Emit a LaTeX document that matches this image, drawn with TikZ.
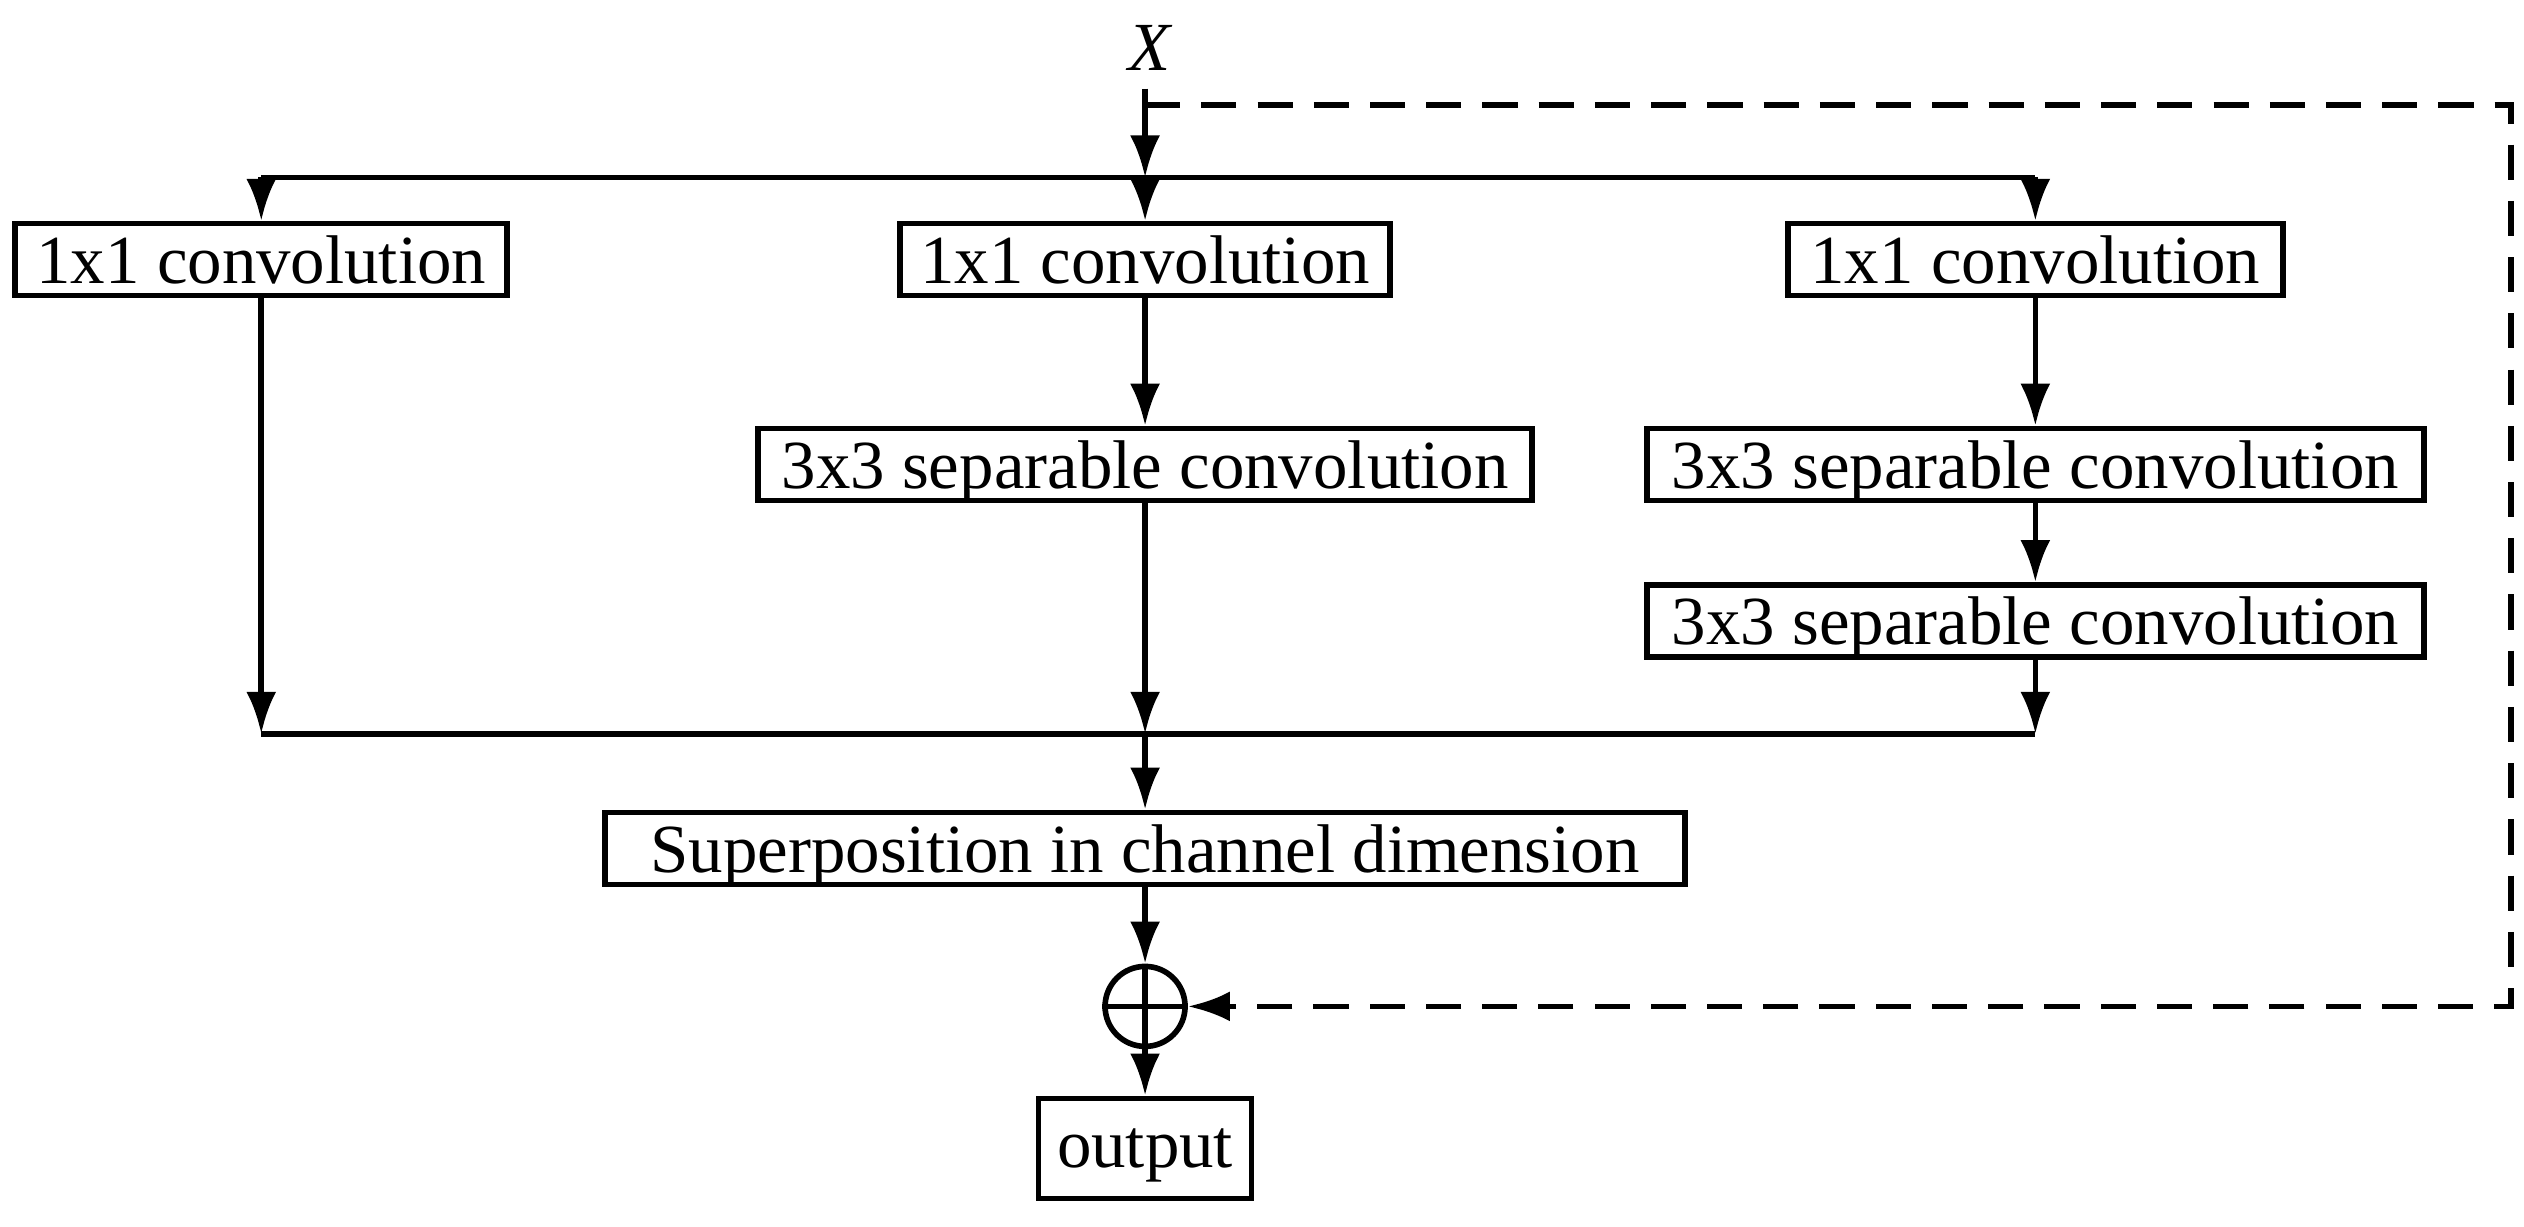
\documentclass[tikz,border=0pt]{standalone}
\usepackage{fontspec}
\setmainfont{Liberation Serif}
\usetikzlibrary{arrows.meta}
\begin{document}
\begin{tikzpicture}[x=0.01613cm,y=-0.01613cm,
  box/.style={draw,line width=1.6pt,inner sep=0pt,minimum height=0.72cm,text depth=0pt,font=\fontsize{19.6}{23}\selectfont},
  ar/.style={line width=1.6pt,-{Latex[length=0.42cm,width=0.3cm]}},
  ln/.style={line width=1.6pt}]
\useasboundingbox (0,0) rectangle (1565,760.7);
\node[font=\itshape\fontsize{19.6}{23}\selectfont] (X) at (713,30) {X};
\coordinate (top) at (710,55);
\coordinate (split) at (710,110);
\coordinate (sl) at (162,110);
\coordinate (sr) at (1262,110);
\node[box,minimum width=4.92cm] (c1) at (162,161) {1x1 convolution};
\node[box,minimum width=4.9cm] (c2) at (710,161) {1x1 convolution};
\node[box,minimum width=4.95cm] (c3) at (1262,161) {1x1 convolution};
\node[box,minimum width=7.74cm] (s2) at (710,288) {3x3 separable convolution};
\node[box,minimum width=7.77cm] (s3) at (1262,288) {3x3 separable convolution};
\node[box,minimum width=7.77cm] (s4) at (1262,385) {3x3 separable convolution};
\coordinate (ml) at (162,455);
\coordinate (mc) at (710,455);
\coordinate (mr) at (1262,455);
\node[box,minimum width=10.8cm] (sp) at (710,526) {Superposition in channel dimension};
\node[draw,circle,line width=1.6pt,minimum size=0.8cm,inner sep=0pt] (p) at (710,624) {};
\draw[line width=1.6pt] (p.north)--(p.south) (p.west)--(p.east);
\node[box,minimum width=2.13cm,minimum height=1.0cm] (o) at (710,712) {output};
\draw[ar] (top)--(split);
\draw[ln] (sl)--(sr);
\draw[ar] (sl)--(c1.north);
\draw[ar] (split)--(c2.north);
\draw[ar] (sr)--(c3.north);
\draw[ar] (c2)--(s2);
\draw[ar] (c3)--(s3);
\draw[ar] (s3)--(s4);
\draw[ar] (c1.south)--(ml);
\draw[ar] (s2.south)--(mc);
\draw[ar] (s4.south)--(mr);
\draw[ln] (ml)--(mr);
\draw[ar] (mc)--(sp.north);
\draw[ar] (sp.south)--(p.north);
\draw[ar] (p.south)--(o.north);
\coordinate (d0) at (710,65);
\coordinate (d1) at (1557,65);
\coordinate (d2) at (1557,624);
\draw[ar,dash pattern=on 10pt off 6pt] (d0)--(d1)--(d2)--(p.east);
\end{tikzpicture}
\end{document}
